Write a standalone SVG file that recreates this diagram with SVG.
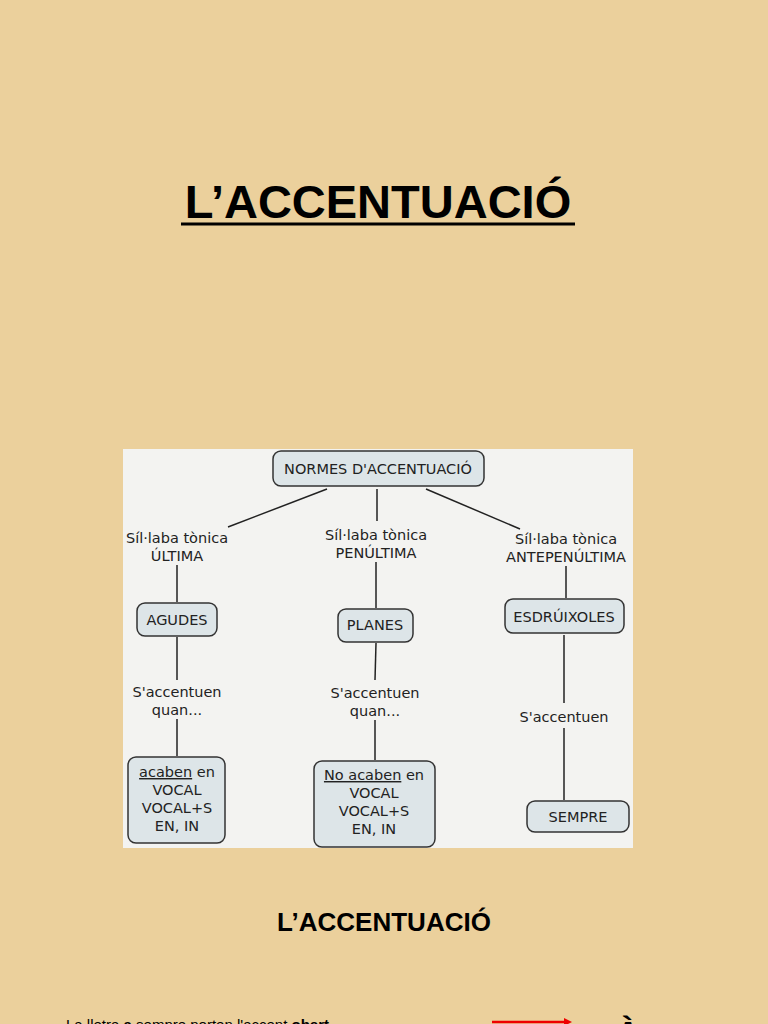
<svg xmlns="http://www.w3.org/2000/svg" width="768" height="1024" viewBox="0 0 768 1024">
<style>
.t{font-family:"DejaVu Sans",sans-serif;font-size:14.5px;fill:#222;text-anchor:middle}
.b{fill:#dde5e8;stroke:#333;stroke-width:1.5}
.c line{stroke:#222;stroke-width:1.5}
</style>
<rect width="768" height="1024" fill="#ebd09c"/>
<text x="378" y="218" font-family="Liberation Sans,Arial,sans-serif" font-size="47" font-weight="bold" text-anchor="middle" fill="#000">L’ACCENTUACIÓ</text>
<line x1="181" y1="224" x2="575" y2="224" stroke="#000" stroke-width="3"/>
<rect x="123" y="449" width="510" height="399" fill="#f3f3f1"/>
<g class="c">
<line x1="327" y1="489" x2="228" y2="527"/>
<line x1="377" y1="489" x2="377" y2="521"/>
<line x1="426" y1="489" x2="520" y2="529"/>
<line x1="177" y1="565" x2="177" y2="602"/>
<line x1="376" y1="562" x2="376" y2="608"/>
<line x1="566" y1="566" x2="566" y2="598"/>
<line x1="177" y1="637" x2="177" y2="680"/>
<line x1="376" y1="643" x2="375" y2="680"/>
<line x1="564" y1="635" x2="564" y2="703"/>
<line x1="177" y1="719" x2="177" y2="756"/>
<line x1="375" y1="720" x2="375" y2="760"/>
<line x1="564" y1="728" x2="564" y2="800"/>
</g>
<g id="n0"><rect class="b" x="273" y="451" width="211" height="35" rx="8"/><text class="t" x="378" y="474">NORMES D'ACCENTUACIÓ</text></g>
<g id="n1"><text class="t" x="177" y="543">Síl·laba tònica</text><text class="t" x="177" y="561">ÚLTIMA</text></g>
<g id="n2"><text class="t" x="376" y="540">Síl·laba tònica</text><text class="t" x="376" y="558">PENÚLTIMA</text></g>
<g id="n3"><text class="t" x="566" y="544">Síl·laba tònica</text><text class="t" x="566" y="562">ANTEPENÚLTIMA</text></g>
<g id="n4"><rect class="b" x="137" y="603" width="80" height="33" rx="8"/><text class="t" x="177" y="625">AGUDES</text></g>
<g id="n5"><rect class="b" x="338" y="609" width="75" height="33" rx="8"/><text class="t" x="375" y="630">PLANES</text></g>
<g id="n6"><rect class="b" x="505" y="599" width="119" height="34" rx="8"/><text class="t" x="564" y="622">ESDRÚIXOLES</text></g>
<g id="n7"><text class="t" x="177" y="697">S'accentuen</text><text class="t" x="177" y="715">quan...</text></g>
<g id="n8"><text class="t" x="375" y="698">S'accentuen</text><text class="t" x="375" y="716">quan...</text></g>
<g id="n9"><text class="t" x="564" y="722">S'accentuen</text></g>
<g id="n10"><rect class="b" x="128" y="757" width="97" height="86" rx="8"/><text class="t" x="177" y="777"><tspan text-decoration="underline">acaben</tspan> en</text><text class="t" x="177" y="795">VOCAL</text><text class="t" x="177" y="813">VOCAL+S</text><text class="t" x="177" y="831">EN, IN</text></g>
<g id="n11"><rect class="b" x="314" y="761" width="121" height="86" rx="8"/><text class="t" x="374" y="780"><tspan text-decoration="underline">No acaben</tspan> en</text><text class="t" x="374" y="798">VOCAL</text><text class="t" x="374" y="816">VOCAL+S</text><text class="t" x="374" y="834">EN, IN</text></g>
<g id="n12"><rect class="b" x="527" y="801" width="102" height="31" rx="8"/><text class="t" x="578" y="822">SEMPRE</text></g>
<text x="384" y="931" font-family="Liberation Sans,Arial,sans-serif" font-size="26" font-weight="bold" text-anchor="middle" fill="#000">L’ACCENTUACIÓ</text>
<text x="66" y="1030" font-family="Liberation Sans,Arial,sans-serif" font-size="15" fill="#000">La lletra <tspan font-weight="bold">a</tspan> sempre porten l'accent <tspan font-weight="bold">obert</tspan></text>
<line x1="492" y1="1022" x2="566" y2="1022" stroke="#e00" stroke-width="2.5"/>
<polygon points="564,1018 572,1022 564,1026" fill="#e00"/>
<text x="628" y="1045" font-family="Liberation Sans,Arial,sans-serif" font-size="34" font-weight="bold" text-anchor="middle" fill="#000">À</text>
</svg>
